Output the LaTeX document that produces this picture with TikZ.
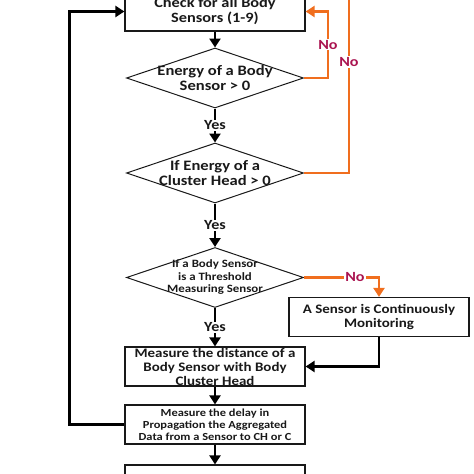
\documentclass[tikz,border=0pt]{standalone}
\usepackage{fontspec}
\setmainfont{Carlito}[FakeStretch=1.15]
\usepackage{tikz}
\usetikzlibrary{calc}
\usetikzlibrary{arrows.meta}
\usetikzlibrary{shapes.geometric}
\definecolor{noorange}{RGB}{240,110,30}
\definecolor{nored}{RGB}{170,20,80}
\definecolor{txt}{RGB}{25,25,25}
\tikzset{>={Triangle[length=9pt,width=11pt]}}
\tikzset{
  stepbox/.style = {draw=txt, line width=1.2pt, fill=white, minimum width=180pt, minimum height=39pt, inner sep=0, align=center, text=txt, font=\bfseries\fontsize{13}{14}\selectfont},
  decision/.style = {draw=txt, line width=1pt, diamond, aspect=2.95, minimum width=177pt, minimum height=60pt, inner xsep=-25pt, inner ysep=-4pt, align=center, text=txt, font=\bfseries\fontsize{14.4}{15}\selectfont},
  topfont/.style = {font=\bfseries\fontsize{14.2}{15}\selectfont},
  thrfont/.style = {font=\bfseries\fontsize{11.2}{12.5}\selectfont},
  delayfont/.style = {font=\bfseries\fontsize{10.8}{12}\selectfont},
  flow/.style = {->, line width=2.6pt, draw=black},
  noflow/.style = {->, line width=2.6pt, draw=noorange},
  yeslab/.style = {fill=white, inner sep=1pt, text=txt, font=\bfseries\fontsize{14}{15}\selectfont},
  nolab/.style = {yeslab, text=nored}
}

\begin{document}
\begin{tikzpicture}[x=1pt, y=-1pt]
\useasboundingbox (0,0) rectangle (474,474);
\node [stepbox, topfont] (check) at (215, 11.5) {Check for all Body\\Sensors (1-9)};
\node [decision] (e1) at (215, 78) {Energy of a Body\\Sensor > 0};
\node [decision] (e2) at (215, 173) {If Energy of a\\Cluster Head > 0};
\node [decision, thrfont] (thr) at (215, 277.5) {If a Body Sensor\\is a Threshold\\Measuring Sensor};
\node [stepbox] (mon) at (379, 317) {A Sensor is Continuously\\Monitoring};
\node [stepbox] (dist) at (215, 366.5) {Measure the distance of a\\Body Sensor with Body\\Cluster Head};
\node [stepbox, delayfont] (delay) at (215, 424.5) {Measure the delay in\\Propagation the Aggregated\\Data from a Sensor to CH or C};
\node [stepbox] (last) at (215, 484.5) {};
\coordinate (up) at (349, -10);
% main flow
\draw [flow] (check) to (e1);
\draw [flow] (e1) to node [yeslab] {Yes} (e2);
\draw [flow] (e2) to node [yeslab] {Yes} (thr);
\draw [flow] (thr) to node [yeslab] {Yes} (dist);
\draw [flow] (dist) to (delay);
\draw [flow] (delay) to (last);
\draw [flow] (mon.south) |- (dist.east);
\draw [flow] (delay.west) -- ++(-55, 0) |- (check.west);
% no branches
\draw [noflow] (e1.east) -- ++(24, 0) |- node [nolab, pos=0.25] {No} (check.east);
\draw [noflow, -] (e2.east) -| (up);
\node [nolab] (no2) at (349, 62) {No};
\draw [noflow] (thr.east) -| node [nolab, pos=0.34] {No} (mon.north);
\end{tikzpicture}
\end{document}
